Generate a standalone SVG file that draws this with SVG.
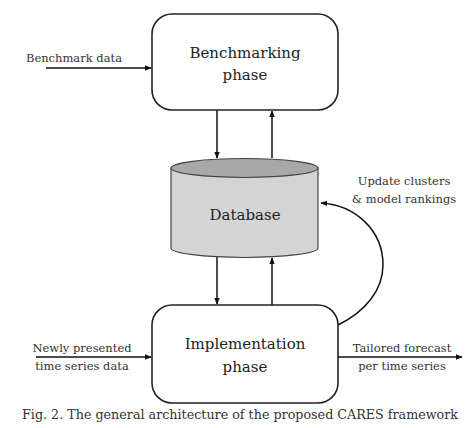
<svg xmlns="http://www.w3.org/2000/svg" width="474" height="428" viewBox="0 0 474 428">
<style>
.box{fill:#fff;stroke:#222;stroke-width:1.6}
.ln{fill:none;stroke:#111;stroke-width:1.5}
text{font-family:'DejaVu Serif','Liberation Serif',serif}
.big{font-size:15px;fill:#222;text-anchor:middle}
.sm{font-size:11.5px;fill:#333;text-anchor:middle}
.cap{font-size:13px;fill:#333}
</style>
<defs>
<marker id="ah" viewBox="0 0 10 10" refX="9" refY="5" markerWidth="7" markerHeight="7" orient="auto" markerUnits="userSpaceOnUse">
<path d="M0,1 L10,5 L0,9 Z" fill="#111"/>
</marker>
</defs>
<rect width="474" height="428" fill="#fff"/>
<g id="connectors">
<line class="ln" x1="46" y1="68" x2="151" y2="68" marker-end="url(#ah)"/>
<line class="ln" x1="217" y1="110" x2="217" y2="158" marker-end="url(#ah)"/>
<line class="ln" x1="272" y1="158" x2="272" y2="111" marker-end="url(#ah)"/>
<line class="ln" x1="217" y1="257" x2="217" y2="304" marker-end="url(#ah)"/>
<line class="ln" x1="272" y1="305" x2="272" y2="258" marker-end="url(#ah)"/>
<line class="ln" x1="36" y1="357" x2="151" y2="357" marker-end="url(#ah)"/>
<line class="ln" x1="338" y1="357" x2="462" y2="357" marker-end="url(#ah)"/>
<path class="ln" d="M338,325 C365,312 383,290 383,265 C383,230 355,205 321,203" marker-end="url(#ah)"/>
</g>
<g id="benchmarking">
<rect class="box" x="152" y="14" width="186" height="96" rx="20"/>
<text class="big" x="245" y="58">Benchmarking</text>
<text class="big" x="245" y="80">phase</text>
</g>
<g id="database">
<path d="M171,168 L171,248 A73.5,9.5 0 0 0 318,248 L318,168 Z" fill="#d4d4d4" stroke="#444" stroke-width="1.2"/>
<ellipse cx="244.5" cy="168" rx="73.5" ry="9.5" fill="#a8a8a8" stroke="#444" stroke-width="1.2"/>
<text class="big" x="245" y="220">Database</text>
</g>
<g id="implementation">
<rect class="box" x="152" y="305" width="186" height="98" rx="20"/>
<text class="big" x="245" y="349">Implementation</text>
<text class="big" x="245" y="372">phase</text>
</g>
<g id="labels">
<text class="sm" x="74" y="62">Benchmark data</text>
<text class="sm" x="82" y="352">Newly presented</text>
<text class="sm" x="82" y="370">time series data</text>
<text class="sm" x="402" y="352">Tailored forecast</text>
<text class="sm" x="402" y="370">per time series</text>
<text class="sm" x="404" y="185">Update clusters</text>
<text class="sm" x="404" y="203">&amp; model rankings</text>
</g>
<text class="cap" x="22" y="419" textLength="436" lengthAdjust="spacingAndGlyphs">Fig. 2.   The general architecture of the proposed CARES framework</text>
</svg>
